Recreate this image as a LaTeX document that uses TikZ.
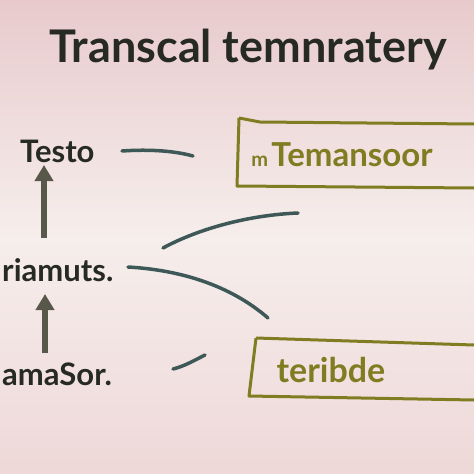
\documentclass[tikz,border=0pt]{standalone}
\usepackage{fontspec}
\setmainfont{Lato}
\usetikzlibrary{arrows.meta}
\definecolor{bgtop}{RGB}{232,202,204}
\definecolor{bgmid}{RGB}{246,238,236}
\definecolor{bgbot}{RGB}{238,216,216}
\definecolor{ink}{RGB}{38,42,34}
\definecolor{arrowc}{RGB}{88,88,74}
\definecolor{linec}{RGB}{62,88,88}
\definecolor{olive}{RGB}{128,124,34}
\tikzset{
  lbl/.style={text=ink, inner sep=0pt, font=\bfseries\fontsize{31}{31}\selectfont},
  upar/.style={draw=arrowc, line width=6pt, -{Triangle[length=16pt,width=18pt]}, shorten >=2pt, shorten <=2pt},
  conn/.style={draw=linec, line width=3.5pt, line cap=round},
  obox/.style={draw=olive, line width=3pt, line join=round},
  otext/.style={text=olive, inner sep=0pt, font=\bfseries\fontsize{34}{34}\selectfont}
}
\begin{document}
\begin{tikzpicture}[x=1pt,y=-1pt]
\useasboundingbox (0,0) rectangle (474,474);
\shade[top color=bgtop, bottom color=bgmid] (0,0) rectangle (474,237);
\shade[top color=bgmid, bottom color=bgbot] (0,237) rectangle (474,474);
% title
\node[text=ink, inner sep=0pt, font=\bfseries\fontsize{45}{45}\selectfont] (title) at (248,50) {Transcal temnratery};
% left labels
\node[lbl, anchor=west] (testo) at (20,151) {Testo};
\node[lbl, anchor=west] (riamuts) at (2,270) {riamuts.};
\node[lbl, anchor=west] (amasor) at (2,374) {amaSor.};
% up arrows
\draw[upar] (44,240) -- (44,163);
\draw[upar] (45,355) -- (45,292);
% boxes
\draw[obox] (239,118) -- (260,122) -- (474,124);
\draw[obox] (239,118) -- (237,186) -- (474,188);
\node[otext] (tbox) at (342,155) {\fontsize{20}{20}\selectfont m\,\fontsize{33}{33}\selectfont Temansoor};
\draw[obox] (256,338) -- (474,345);
\draw[obox] (256,338) -- (249,396) -- (474,400);
\node[otext] (bbox) at (331,370) {teribde};
% connectors
\coordinate (c1a) at (122,151);
\coordinate (c1b) at (193,156);
\coordinate (c2a) at (163,248);
\coordinate (c2b) at (298,213);
\coordinate (c3a) at (128,267);
\coordinate (c3b) at (268,318);
\coordinate (c4a) at (173,369);
\coordinate (c4b) at (205,355);
\draw[conn] (c1a) .. controls (150,149) and (175,151) .. (c1b);
\draw[conn] (c2a) .. controls (200,228) and (250,215) .. (c2b);
\draw[conn] (c3a) .. controls (180,270) and (230,285) .. (c3b);
\draw[conn] (c4a) .. controls (185,366) and (195,360) .. (c4b);
\end{tikzpicture}
\end{document}
